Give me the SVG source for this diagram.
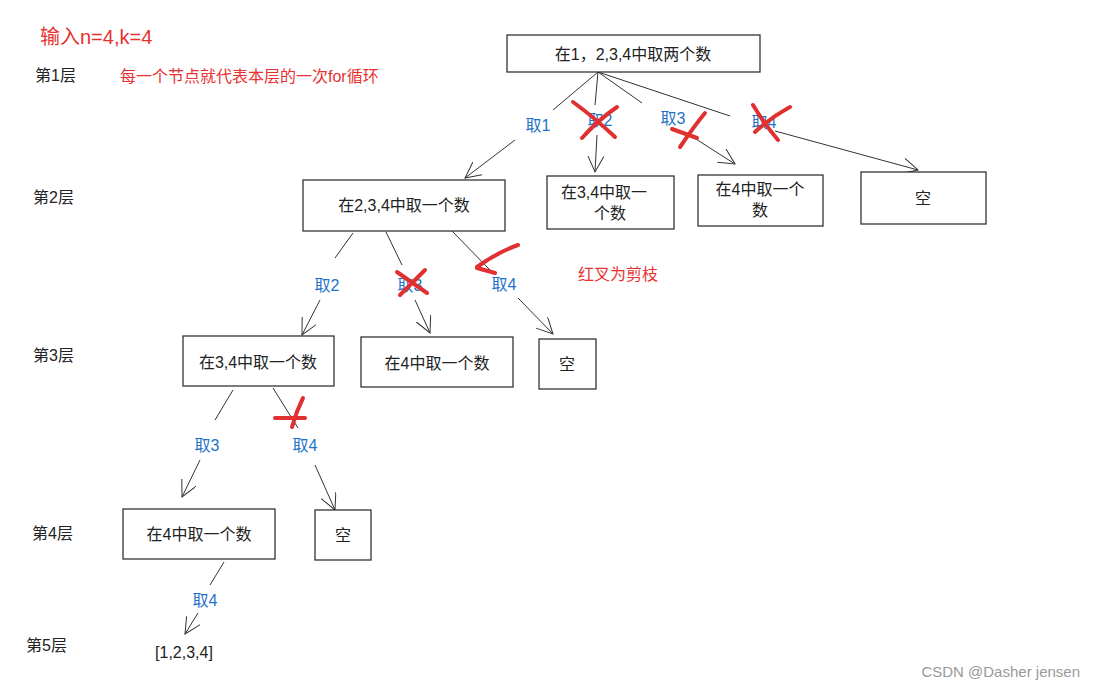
<svg xmlns="http://www.w3.org/2000/svg" width="1094" height="691" viewBox="0 0 1094 691">
<defs>
<marker id="a" markerWidth="20" markerHeight="20" refX="16" refY="8" orient="auto" markerUnits="userSpaceOnUse"><path d="M0,0 L16,8 L0,16" fill="none" stroke="#333" stroke-width="1"/></marker>
</defs>
<style>
.b{fill:#fff;stroke:#333;stroke-width:1.3}
.t{font-family:"Liberation Sans","Noto Sans CJK SC",sans-serif;font-size:16px;fill:#222;text-anchor:middle}
.l{font-family:"Liberation Sans","Noto Sans CJK SC",sans-serif;font-size:16px;fill:#1e73c8;text-anchor:middle}
.y{font-family:"Liberation Sans","Noto Sans CJK SC",sans-serif;font-size:16px;fill:#222}
.r{font-family:"Liberation Sans","Noto Sans CJK SC",sans-serif;fill:#e83030}
.e{stroke:#333;stroke-width:1;fill:none}
.x{stroke:#e03030;stroke-width:4;stroke-linecap:round;fill:none}
</style>
<rect width="1094" height="691" fill="#fff"/>
<text class="r" x="40" y="44" font-size="20">输入n=4,k=4</text>
<text class="r" x="120" y="82" font-size="16">每一个节点就代表本层的一次for循环</text>
<text class="r" x="578" y="280" font-size="16">红叉为剪枝</text>
<g id="layers">
<text class="y" x="35" y="81">第1层</text>
<text class="y" x="33" y="203">第2层</text>
<text class="y" x="33" y="361">第3层</text>
<text class="y" x="32" y="539">第4层</text>
<text class="y" x="26" y="651">第5层</text>
</g>
<g id="connectors">
<path class="e" d="M598,72 L553,110"/><path class="e" d="M515,140 L465,178" marker-end="url(#a)"/>
<path class="e" d="M598,72 L595,105"/><path class="e" d="M597,135 L595,172" marker-end="url(#a)"/>
<path class="e" d="M598,72 L642,103"/><path class="e" d="M688,134 L735,164" marker-end="url(#a)"/>
<path class="e" d="M598,72 L730,116"/><path class="e" d="M775,131 L918,170" marker-end="url(#a)"/>
<path class="e" d="M353,233 L335,258"/><path class="e" d="M320,300 L302,335" marker-end="url(#a)"/>
<path class="e" d="M386,232 L402,265"/><path class="e" d="M415,300 L430,333" marker-end="url(#a)"/>
<path class="e" d="M452,231 L490,270"/><path class="e" d="M518,298 L553,334" marker-end="url(#a)"/>
<path class="e" d="M233,390 L215,420"/><path class="e" d="M200,460 L182,497" marker-end="url(#a)"/>
<path class="e" d="M273,388 L298,428"/><path class="e" d="M315,465 L335,510" marker-end="url(#a)"/>
<path class="e" d="M224,562 L210,585"/><path class="e" d="M198,613 L185,634" marker-end="url(#a)"/>
<text class="l" x="538" y="131">取1</text>
<text class="l" x="600" y="126">取2</text>
<text class="l" x="673" y="124">取3</text>
<text class="l" x="764" y="128">取4</text>
<text class="l" x="327" y="291">取2</text>
<text class="l" x="410" y="291">取3</text>
<text class="l" x="504" y="290">取4</text>
<text class="l" x="207" y="451">取3</text>
<text class="l" x="305" y="451">取4</text>
<text class="l" x="205" y="606">取4</text>
</g>
<g id="n0"><rect class="b" x="507" y="35" width="253" height="37"/><text class="t" x="633" y="60">在1，2,3,4中取两个数</text></g>
<g id="n1"><rect class="b" x="303" y="180" width="202" height="51"/><text class="t" x="404" y="211">在2,3,4中取一个数</text></g>
<g id="n2"><rect class="b" x="547" y="176" width="127" height="53"/><text class="t" x="604" y="198">在3,4中取一</text><text class="t" x="610" y="219">个数</text></g>
<g id="n3"><rect class="b" x="698" y="175" width="125" height="51"/><text class="t" x="760" y="195">在4中取一个</text><text class="t" x="760" y="216">数</text></g>
<g id="n4"><rect class="b" x="861" y="172" width="125" height="52"/><text class="t" x="923" y="204">空</text></g>
<g id="n5"><rect class="b" x="183" y="336" width="151" height="50"/><text class="t" x="258" y="368">在3,4中取一个数</text></g>
<g id="n6"><rect class="b" x="361" y="337" width="152" height="50"/><text class="t" x="437" y="369">在4中取一个数</text></g>
<g id="n7"><rect class="b" x="539" y="339" width="57" height="50"/><text class="t" x="567" y="370">空</text></g>
<g id="n8"><rect class="b" x="123" y="509" width="152" height="50"/><text class="t" x="199" y="540">在4中取一个数</text></g>
<g id="n9"><rect class="b" x="315" y="510" width="56" height="50"/><text class="t" x="343" y="541">空</text></g>
<g id="n10"><text class="t" x="184" y="658">[1,2,3,4]</text></g>
<g id="cuts">
<path class="x" d="M573,102 Q595,118 615,137 M617,107 Q598,120 582,138"/>
<path class="x" d="M672,129 L697,138 M680,147 Q695,125 705,113"/>
<path class="x" d="M753,105 Q765,125 778,140 M790,107 Q770,118 755,132"/>
<path class="x" d="M397,272 L427,293 M425,270 L400,295"/>
<path class="x" d="M477,268 L495,273 M477,267 Q498,252 518,245"/>
<path class="x" d="M275,418 L305,418 M303,398 Q296,412 292,427"/>
</g>
<text x="1080" y="677" text-anchor="end" font-family="Liberation Sans,sans-serif" font-size="15" fill="#999">CSDN @Dasher jensen</text>
</svg>
